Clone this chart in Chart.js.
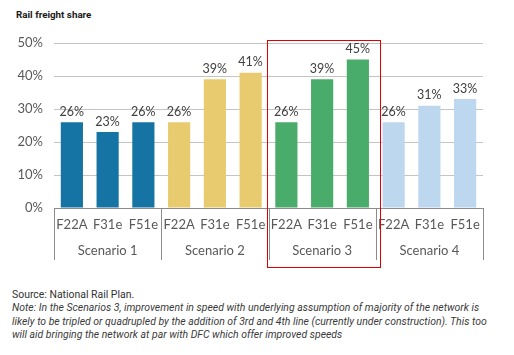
<!DOCTYPE html>
<html><head><meta charset="utf-8">
<script src="https://cdn.jsdelivr.net/npm/chart.js@4.4.1/dist/chart.umd.min.js"></script>
<style>
html,body{margin:0;padding:0;background:#fff;width:514px;height:355px;overflow:hidden;}
#wrap{position:absolute;left:0;top:0;width:514px;height:270px;}
#title{position:absolute;left:16px;top:9px;font:bold 9.8px Roboto,sans-serif;color:#1a1a1a;white-space:nowrap;}
#notes{position:absolute;left:12px;top:288px;font:10.45px Roboto,sans-serif;color:#333;line-height:13.3px;white-space:nowrap;}
#notes i{color:#3a3a3a;}
</style></head>
<body>
<div id="title">Rail freight share</div>
<div id="wrap"><canvas id="c"></canvas></div>
<div id="notes">Source: National Rail Plan.<br><i>Note: In the Scenarios 3, improvement in speed with underlying assumption of majority of the network is<br>likely to be tripled or quadrupled by the addition of 3rd and 4th line (currently under construction). This too<br>will aid bringing the network at par with DFC which offer improved speeds</i></div>
<script>
const categories = ['F22A','F31e','F51e','F22A','F31e','F51e','F22A','F31e','F51e','F22A','F31e','F51e'];
const groups = ['Scenario 1','Scenario 2','Scenario 3','Scenario 4'];
const values = [26,23,26,26,39,41,26,39,45,26,31,33];
const groupColors = ['#1674A4','#E8CB6E','#4AAC6A','#BDD7EE'];
const yTicks = [0,10,20,30,40,50];
const highlightGroup = 2;

const barColors = values.map((v,i)=>groupColors[Math.floor(i/3)]);
const FONT = 'Lato, "Liberation Sans", sans-serif';

const groupPlugin = {
  id:'groups',
  afterDraw(chart){
    const ctx = chart.ctx, x = chart.scales.x, a = chart.chartArea;
    const n = categories.length, per = n/groups.length;
    const step = (x.getPixelForValue(1)-x.getPixelForValue(0));
    const edge = i => x.getPixelForValue(i) - step/2;
    ctx.save();
    ctx.strokeStyle = '#8c8c8c'; ctx.lineWidth = 1;
    ctx.beginPath(); ctx.moveTo(a.left, Math.round(a.bottom)+0.5); ctx.lineTo(a.right, Math.round(a.bottom)+0.5); ctx.stroke();
    for(let g=0; g<=groups.length; g++){
      const px = Math.round(edge(g*per))+0.5;
      ctx.beginPath(); ctx.moveTo(px, a.bottom); ctx.lineTo(px, a.bottom+52); ctx.stroke();
    }
    ctx.fillStyle = '#595959'; ctx.font = '13px '+FONT; ctx.textAlign='center'; ctx.textBaseline='middle';
    groups.forEach((g,i)=>{
      const cx = (edge(i*per)+edge((i+1)*per))/2;
      ctx.fillText(g, cx, a.bottom+43);
    });
    const meta = chart.getDatasetMeta(0);
    ctx.fillStyle = '#404040'; ctx.textBaseline='bottom'; ctx.font='12.5px '+FONT;
    meta.data.forEach((bar,i)=>{ ctx.fillText(values[i]+'%', bar.x, bar.y-4); });
    const l = edge(highlightGroup*per)-2, r = edge((highlightGroup+1)*per)+4;
    ctx.strokeStyle = '#E00000'; ctx.lineWidth = 1;
    ctx.strokeRect(Math.round(l)+0.5, Math.round(a.top)-2.5, Math.round(r-l), 60+Math.round(a.bottom)-Math.round(a.top)+2);
    ctx.restore();
  }
};

new Chart(document.getElementById('c'), {
  type:'bar',
  data:{labels:categories, datasets:[{data:values, backgroundColor:barColors, borderWidth:0, categoryPercentage:1, barPercentage:0.62}]},
  options:{
    responsive:true, maintainAspectRatio:false, animation:false,
    layout:{padding:{top:43,right:31,left:0,bottom:0}},
    plugins:{legend:{display:false}, tooltip:{enabled:false}},
    scales:{
      y:{min:0,max:50,
        afterBuildTicks:s=>{s.ticks = yTicks.map(v=>({value:v}));},
        afterFit:s=>{s.width=54;},
        ticks:{callback:v=>v+'%', color:'#595959', font:{family:FONT,size:13}, padding:11},
        grid:{color:'#c4c4c4', drawTicks:false, tickLength:0},
        border:{display:false}},
      x:{
        afterFit:s=>{s.height=62;},
        ticks:{color:'#595959', font:{family:FONT,size:13}, padding:9, maxRotation:0, autoSkip:false},
        grid:{display:false, drawTicks:false, tickLength:0}, border:{display:false}}
    }
  },
  plugins:[groupPlugin]
});
</script>
</body></html>
